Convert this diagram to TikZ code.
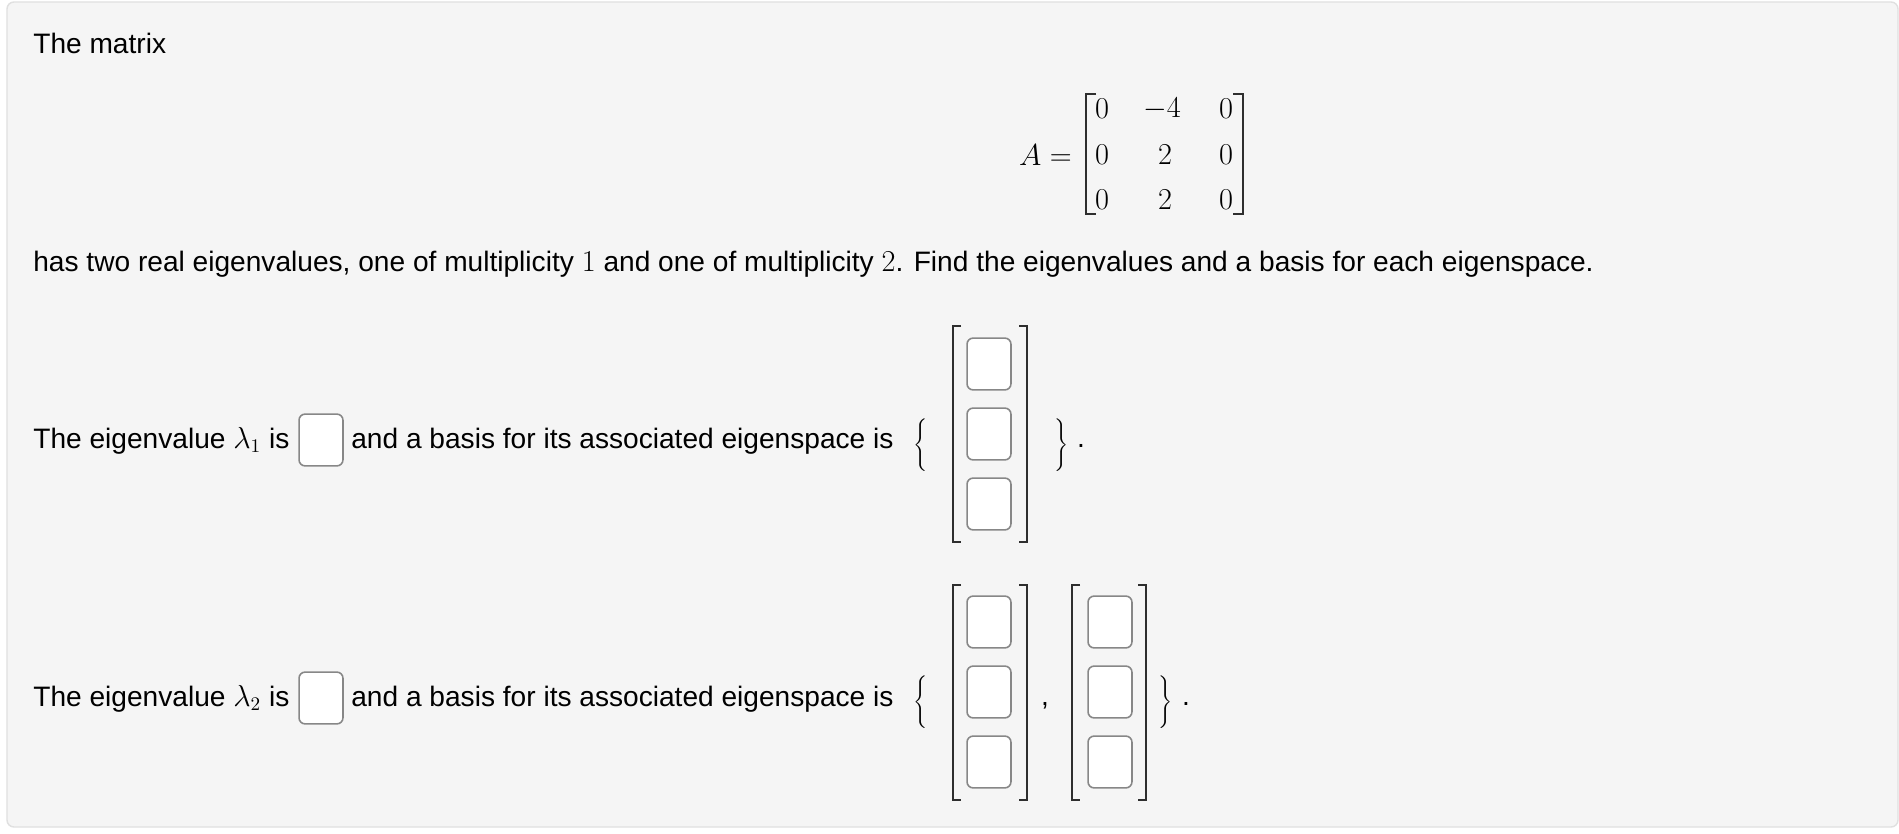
\documentclass[tikz,border=0pt]{standalone}
\usepackage{fontspec}
\setmainfont{Liberation Sans}
\begin{document}
\begin{tikzpicture}[x=0.02cm,y=-0.02cm,
  txt/.style={font=\fontsize{16}{19}\selectfont,anchor=base west,inner sep=0},
  ent/.style={font=\fontsize{16}{19}\selectfont,inner sep=0},
  brc/.style={font=\fontsize{16}{19}\selectfont,inner sep=0},
  bigbrc/.style={font=\fontsize{24}{28}\selectfont,inner sep=0},
  ibox/.style={draw=black!47,fill=white,line width=0.9pt,rounded corners=3.5pt,minimum width=25pt,minimum height=29.5pt,inner sep=0},
  brk/.style={draw=black!82,line width=1.6pt},
  mbrk/.style={draw=black!82,line width=1pt}]
\useasboundingbox (0,0) rectangle (1899,834);
\fill[white] (0,0) rectangle (1899,834);
\draw[draw=black!12,fill=black!4,line width=0.8pt,rounded corners=4pt] (7,2) rectangle (1898,827);
\node[txt] (t1) at (33,54) {The matrix};
% matrix
\node[ent,anchor=east] (A) at (1072,155) {$A=$};
\node[ent] (m11) at (1102,109) {$0$};
\node[ent] (m12) at (1162,109) {$-4$};
\node[ent] (m13) at (1226,109) {$0$};
\node[ent] (m21) at (1102,155) {$0$};
\node[ent] (m22) at (1165,155) {$2$};
\node[ent] (m23) at (1226,155) {$0$};
\node[ent] (m31) at (1102,200) {$0$};
\node[ent] (m32) at (1165,200) {$2$};
\node[ent] (m33) at (1226,200) {$0$};
\draw[mbrk] (1096,94) -- (1086,94) -- (1086,214) -- (1096,214);
\draw[mbrk] (1233,94) -- (1243,94) -- (1243,214) -- (1233,214);
\node[txt] (t2) at (33,272) {has two real eigenvalues, one of multiplicity $1$ and one of multiplicity $2$. Find the eigenvalues and a basis for each eigenspace.};
% line 1
\node[txt] (l1) at (33,448) {The eigenvalue $\lambda_1$ is};
\node[ibox] (e1) at (321,440) {};
\node[txt] (l1b) at (351,448) {and a basis for its associated eigenspace is};
\node[bigbrc] (lb1) at (922,445) {$\left\{\vcenter{\hbox{\rule{0pt}{30pt}}}\right.$};
\draw[brk] (961,326) -- (953,326) -- (953,542) -- (961,542);
\draw[brk] (1019,326) -- (1027,326) -- (1027,542) -- (1019,542);
\node[ibox] (v11) at (989,364) {};
\node[ibox] (v12) at (989,434) {};
\node[ibox] (v13) at (989,504) {};
\node[bigbrc] (rb1) at (1061,445) {$\left.\vcenter{\hbox{\rule{0pt}{30pt}}}\right\}$};
\node[brc] (d1) at (1081,446) {.};
% line 2
\node[txt] (l2) at (33,706) {The eigenvalue $\lambda_2$ is};
\node[ibox] (e2) at (321,698) {};
\node[txt] (l2b) at (351,706) {and a basis for its associated eigenspace is};
\node[bigbrc] (lb2) at (922,702) {$\left\{\vcenter{\hbox{\rule{0pt}{30pt}}}\right.$};
\draw[brk] (961,585) -- (953,585) -- (953,800) -- (961,800);
\draw[brk] (1019,585) -- (1027,585) -- (1027,800) -- (1019,800);
\node[ibox] (v21) at (989,622) {};
\node[ibox] (v22) at (989,692) {};
\node[ibox] (v23) at (989,762) {};
\node[brc] (cm) at (1045,706) {,};
\draw[brk] (1080,585) -- (1072,585) -- (1072,800) -- (1080,800);
\draw[brk] (1138,585) -- (1146,585) -- (1146,800) -- (1138,800);
\node[ibox] (w21) at (1110,622) {};
\node[ibox] (w22) at (1110,692) {};
\node[ibox] (w23) at (1110,762) {};
\node[bigbrc] (rb2) at (1165,702) {$\left.\vcenter{\hbox{\rule{0pt}{30pt}}}\right\}$};
\node[brc] (d2) at (1186,704) {.};
\end{tikzpicture}
\end{document}
